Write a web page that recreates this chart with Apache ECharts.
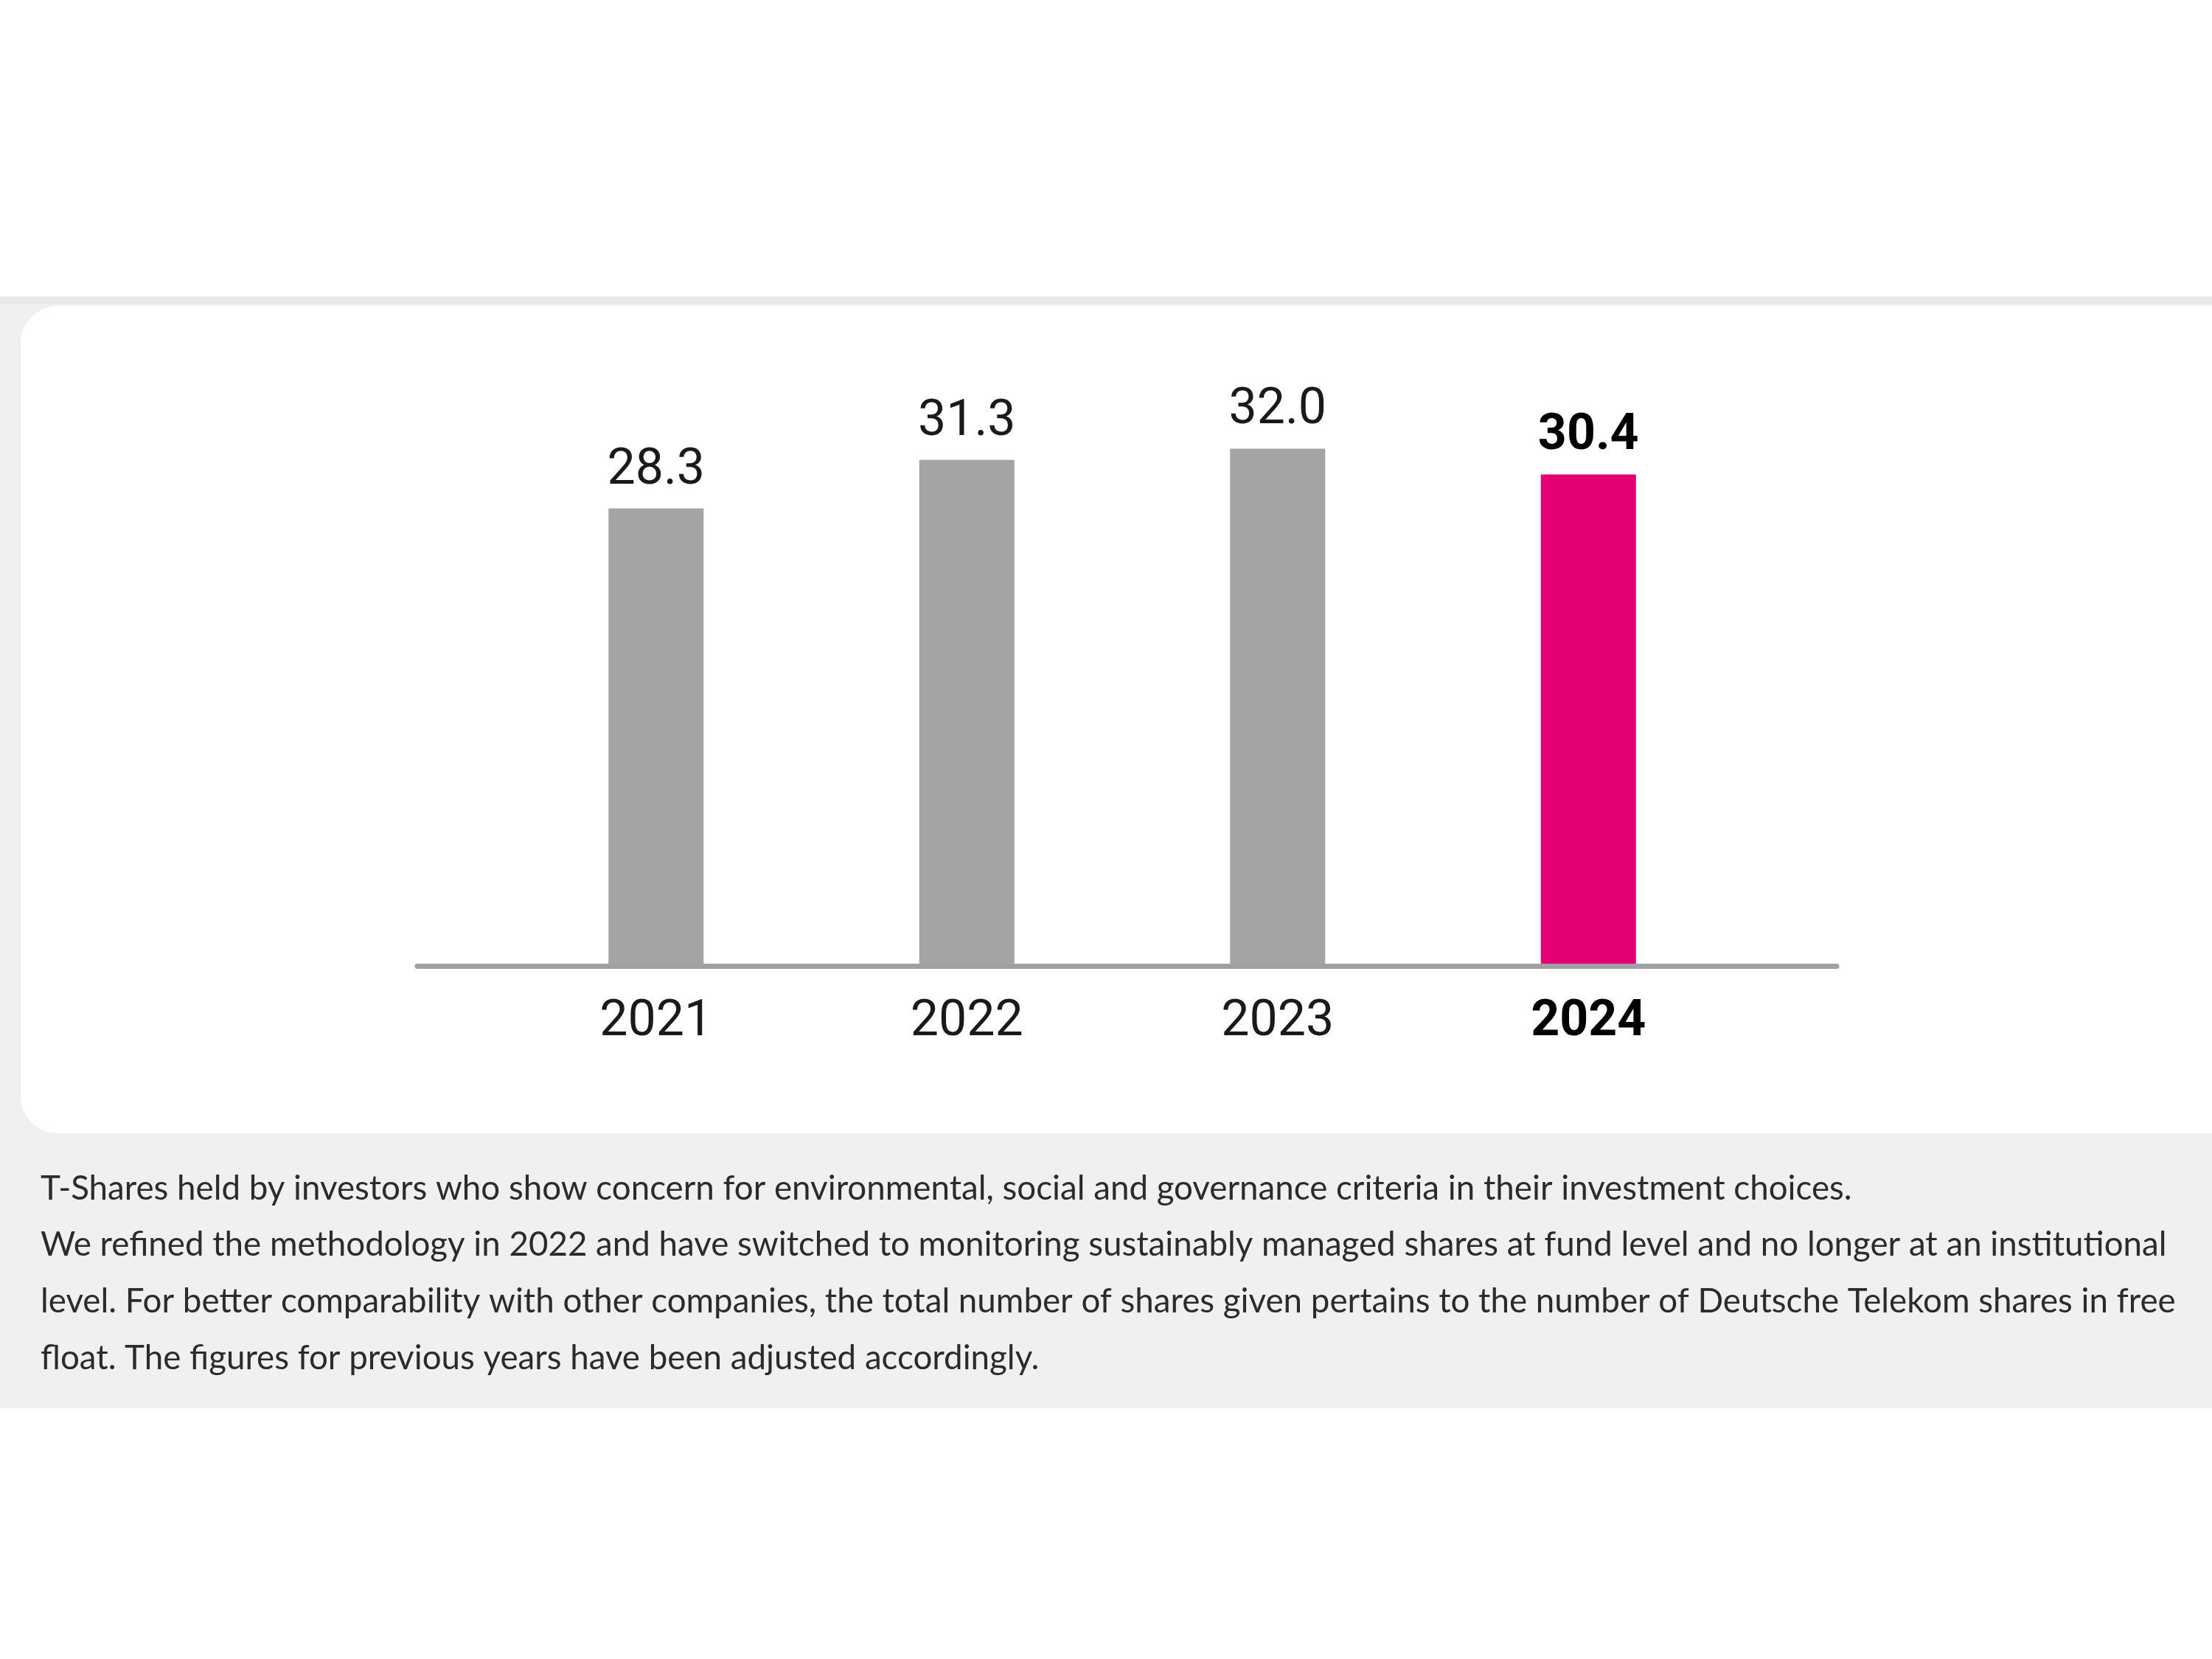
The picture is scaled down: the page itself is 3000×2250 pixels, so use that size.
<!DOCTYPE html>
<html>
<head>
<meta charset="utf-8">
<script src="https://cdn.jsdelivr.net/npm/echarts@6/dist/echarts.min.js"></script>
<style>
html,body{margin:0;padding:0;background:#ffffff;}
#chart{width:3000px;height:2250px;}
</style>
</head>
<body>
<div id="chart"></div>
<script>
var categories = ['2021', '2022', '2023', '2024'];
var values = [28.3, 31.3, 32.0, 30.4];
var highlightIndex = 3;
var captionLines = [
  'T-Shares held by investors who show concern for environmental, social and governance criteria in their investment choices.',
  'We refined the methodology in 2022 and have switched to monitoring sustainably managed shares at fund level and no longer at an institutional',
  'level. For better comparability with other companies, the total number of shares given pertains to the number of Deutsche Telekom shares in free',
  'float. The figures for previous years have been adjusted accordingly.'
];

var numFont = "Roboto, sans-serif";
var textFont = "Lato, 'Noto Sans', sans-serif";
var GRAY = '#a4a4a4';
var MAGENTA = '#e20074';

var chart = echarts.init(document.getElementById('chart'), null, {renderer: 'canvas'});

var barData = values.map(function (v, i) {
  return {
    value: v,
    itemStyle: {color: i === highlightIndex ? MAGENTA : GRAY},
    label: i === highlightIndex ? {fontWeight: 'bold', color: '#000000'} : {}
  };
});

var captionGraphics = captionLines.map(function (line, i) {
  return {
    type: 'text',
    z: -5,
    left: 55,
    top: 1589 + i * 76.7,
    style: {
      text: line,
      font: '45.7px ' + textFont,
      fill: '#2b2b2b'
    }
  };
});

var option = {
  animation: false,
  backgroundColor: '#ffffff',
  graphic: [
    {type: 'rect', z: -20, shape: {x: 0, y: 402, width: 3000, height: 1508}, style: {fill: '#f0f0f0'}},
    {type: 'rect', z: -19, shape: {x: 0, y: 402, width: 3000, height: 10}, style: {fill: '#e8e8e8'}},
    {type: 'rect', z: -18, shape: {x: 28, y: 415, width: 3020, height: 1122, r: 50}, style: {fill: '#ffffff'}}
  ].concat(captionGraphics),
  grid: [
    {left: 679, right: 635, top: 433, bottom: 940},
    {left: 566, right: 509, top: 433, bottom: 940}
  ],
  xAxis: [
    {
      type: 'category',
      gridIndex: 0,
      data: categories,
      axisLine: {show: false},
      axisTick: {show: false},
      axisLabel: {
        margin: 43,
        fontSize: 68,
        fontFamily: numFont,
        color: '#1a1a1a',
        formatter: function (v, i) {
          return i === highlightIndex ? '{b|' + v + '}' : v;
        },
        rich: {
          b: {fontSize: 68, fontFamily: numFont, fontWeight: 'bold', color: '#000000'}
        }
      }
    },
    {
      type: 'category',
      gridIndex: 1,
      data: [''],
      z: 5,
      axisLine: {show: true, lineStyle: {color: '#a0a0a0', width: 7}},
      axisTick: {show: false},
      axisLabel: {show: false}
    }
  ],
  yAxis: [
    {type: 'value', gridIndex: 0, min: 0, max: 40, show: false, splitLine: {show: false}},
    {type: 'value', gridIndex: 1, min: 0, max: 40, show: false, splitLine: {show: false}}
  ],
  series: [
    {
      type: 'bar',
      xAxisIndex: 0,
      yAxisIndex: 0,
      barWidth: 129,
      data: barData,
      label: {
        show: true,
        position: 'top',
        distance: 17,
        fontSize: 68,
        fontFamily: numFont,
        color: '#1a1a1a',
        formatter: function (p) { return p.value.toFixed(1); }
      }
    }
  ]
};

chart.setOption(option);
</script>
</body>
</html>
